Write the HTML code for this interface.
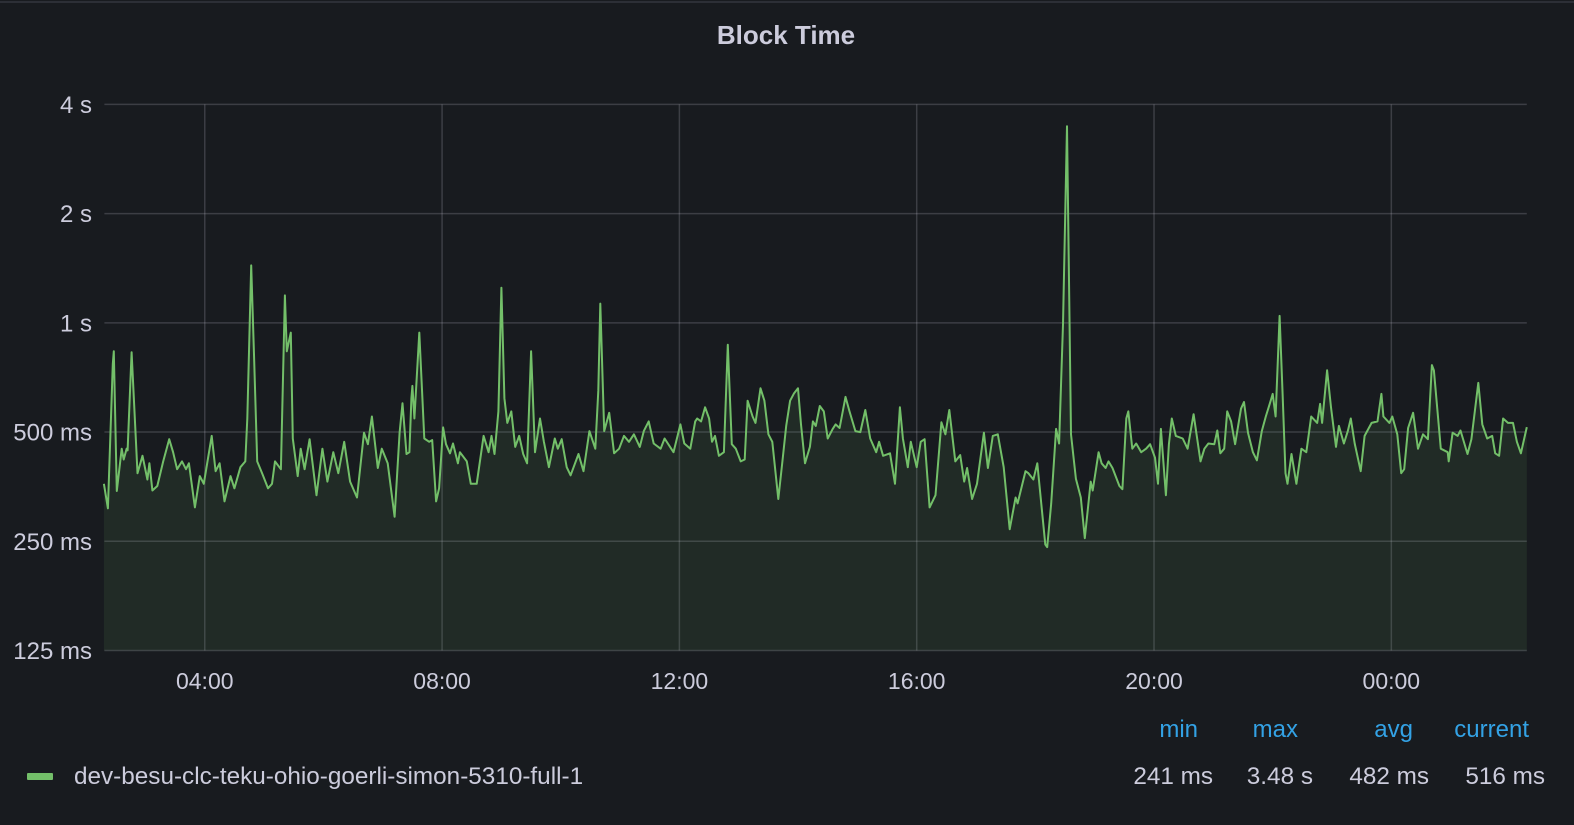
<!DOCTYPE html>
<html><head><meta charset="utf-8"><style>
body{margin:0;background:#181b1f;width:1574px;height:820px;overflow:hidden;font-family:"Liberation Sans",sans-serif;}
svg text{font-family:"Liberation Sans",sans-serif;}
</style></head><body>
<svg id="chart" width="1574" height="820">
<rect x="0" y="0" width="1574" height="820" fill="#181b1f"/>
<line x1="0" y1="2" x2="1574" y2="2" stroke="#2c2f36" stroke-width="2"/>
<text x="786" y="44" text-anchor="middle" fill="#ccccdc" font-size="26" font-weight="bold">Block Time</text>
<g id="grid"></g><g id="series"></g><g id="axes"></g>
<g>
<rect x="27" y="773" width="26" height="7" rx="1" fill="#73bf69"/>
<text x="74" y="784" fill="#ccccdc" font-size="24.3">dev-besu-clc-teku-ohio-goerli-simon-5310-full-1</text>
<text x="1198" y="737" text-anchor="end" fill="#33a2e5" font-size="24">min</text>
<text x="1298" y="737" text-anchor="end" fill="#33a2e5" font-size="24">max</text>
<text x="1413" y="737" text-anchor="end" fill="#33a2e5" font-size="24">avg</text>
<text x="1529" y="737" text-anchor="end" fill="#33a2e5" font-size="24">current</text>
<text x="1213" y="784" text-anchor="end" fill="#ccccdc" font-size="24.3">241 ms</text>
<text x="1313" y="784" text-anchor="end" fill="#ccccdc" font-size="24.3">3.48 s</text>
<text x="1429" y="784" text-anchor="end" fill="#ccccdc" font-size="24.3">482 ms</text>
<text x="1545" y="784" text-anchor="end" fill="#ccccdc" font-size="24.3">516 ms</text>
</g>
</svg>
<script>
// time in minutes of day (continuing past midnight)
const times=[138,142,147,148,151,156,158,161,162,166,172,177,182,184,187,192,198,204,208,212,217,221,224,230,235,239,247,251,255,260,266,270,276,281,283,287,290,293,298,304,308,311,317,321,323,327,329,334,337,341,346,353,359,364,370,375,381,387,394,401,405,409,415,419,425,432,437,
440,444,447,449,450,452,457,462,467,470,474,477,481,484,488,491,496,498,505,509,515,522,527,530,533,537,540,543,546,550,554,558,562,566,570,574,579,583,588,594,597,601,606,610,618,623,629,635,638,640,644,649,654,659,664,669,674,680,684,689,694,701,705,714,721,725,731,736,
738,742,746,750,753,756,760,765,769,773,777,782,786,789,794,797,802,806,810,814,820,824,828,832,836,840,843,847,852,855,858,862,866,870,875,878,882,888,892,898,903,908,913,919,922,926,933,938,943,946,951,954,960,964,968,973,979,985,989,993,999,1004,1008,1011,1016,1021,1028,1032,1037,
1042,1048,1054,1060,1062,1070,1073,1078,1082,1090,1092,1096,1101,1104,1108,1112,1116,1121,1126,1130,1136,1138,1144,1147,1151,1154,1158,1165,1168,1172,1174,1178,1182,1187,1192,1196,1201,1204,1207,1212,1215,1218,1222,1229,1234,1240,1247,1251,1255,1261,1264,1267,1271,1274,1278,1282,1288,1291,1295,1300,1304,1309,1313,1317,1320,1323,1327,1330,
1333,1335,1339,1344,1349,1354,1359,1365,1368,1370,1375,1379,1384,1387,1392,1396,1399,1403,1409,1413,1420,1426,1430,1432,1438,1441,1446,1450,1453,1457,1462,1467,1472,1477,1481,1483,1490,1497,1498,1502,1507,1510,1517,1521,1528,1532,1537,1542,1545,1549,1553,1558,1563,1567,1571,1577];
// block time in ms
const values=[360,308,770,835,344,450,420,450,445,830,385,430,370,410,345,355,415,478,440,395,415,395,410,310,378,360,488,390,410,322,378,350,400,415,545,1440,785,415,385,350,360,415,395,1190,835,940,480,378,450,395,478,335,450,365,440,385,470,365,330,498,463,552,398,450,410,292,498,
600,435,440,620,670,545,940,480,470,475,322,350,515,463,437,465,410,440,415,360,360,488,440,488,435,570,1250,620,530,570,455,488,435,410,835,440,545,470,400,480,450,478,400,380,435,390,503,450,650,1130,503,565,437,450,488,470,493,455,503,535,465,450,480,440,525,465,450,535,
545,535,585,545,470,488,430,440,870,463,450,415,420,610,552,530,660,610,493,470,327,410,520,610,640,660,525,410,455,535,520,590,570,480,510,525,513,625,570,503,500,575,480,440,470,430,437,360,585,480,400,470,400,470,478,310,335,532,493,575,415,432,365,398,327,360,498,398,488,
493,400,270,330,318,390,385,370,410,245,241,318,510,465,990,3480,493,372,330,255,365,345,440,410,398,415,398,355,348,545,570,450,465,440,450,463,425,360,510,335,463,545,488,480,450,560,415,450,465,463,505,437,450,570,535,463,580,605,498,440,418,503,552,598,637,552,1045,637,
385,360,435,360,450,440,552,530,598,530,740,585,455,520,465,503,545,465,390,488,530,535,637,552,530,552,493,385,395,513,565,450,493,478,765,740,450,440,415,498,488,505,435,478,683,525,480,488,437,430,545,530,530,470,437,516];
const xTickLabels=["04:00","08:00","12:00","16:00","20:00","00:00"];
const xTickTimes=[240,480,720,960,1200,1440];
const yTickLabels=["125 ms","250 ms","500 ms","1 s","2 s","4 s"];
const yTickValues=[125,250,500,1000,2000,4000];

const X0=104.4,X1=1526.8,Y0=650.5,Y1=104.4;
const tMin=138.5,tMax=1577;
function xs(t){return X0+(t-tMin)/(tMax-tMin)*(X1-X0);}
function ys(v){return Y0-(Math.log2(v)-Math.log2(125))/(Math.log2(4000)-Math.log2(125))*(Y0-Y1);}
const NS="http://www.w3.org/2000/svg";
const grid=document.getElementById('grid'),axes=document.getElementById('axes'),series=document.getElementById('series');
function mk(tag,attrs,parent){const e=document.createElementNS(NS,tag);for(const k in attrs)e.setAttribute(k,attrs[k]);parent.appendChild(e);return e;}
yTickValues.forEach((v,i)=>{
  const y=ys(v);
  const l=mk('line',{x1:X0,x2:X1,y1:y,y2:y,stroke:'rgba(204,204,220,0.2)','stroke-width':1.5},grid);
  
  
  const t=mk('text',{x:92,y:y+8.5,'text-anchor':'end',fill:'#ccccdc','font-size':24},axes);
  t.textContent=yTickLabels[i];
  
  
});
xTickTimes.forEach((tm,i)=>{
  const x=xs(tm);
  const l=mk('line',{x1:x,x2:x,y1:Y1,y2:Y0,stroke:'rgba(204,204,220,0.2)','stroke-width':1.5},grid);
  
  
  const t=mk('text',{x:x,y:689,'text-anchor':'middle',fill:'#ccccdc','font-size':23},axes);
  t.textContent=xTickLabels[i];
  
  
});
let d='';
times.forEach((tm,i)=>{d+=(i?'L':'M')+xs(tm).toFixed(1)+','+ys(values[i]).toFixed(1);});
const area=mk('path',{d:d+'L'+xs(times[times.length-1]).toFixed(1)+','+Y0+'L'+xs(times[0]).toFixed(1)+','+Y0+'Z',fill:'rgba(115,191,105,0.1)'},series);


const line=mk('path',{d:d,fill:'none',stroke:'#73bf69','stroke-width':2,'stroke-linejoin':'round'},series);


</script>
</body></html>
